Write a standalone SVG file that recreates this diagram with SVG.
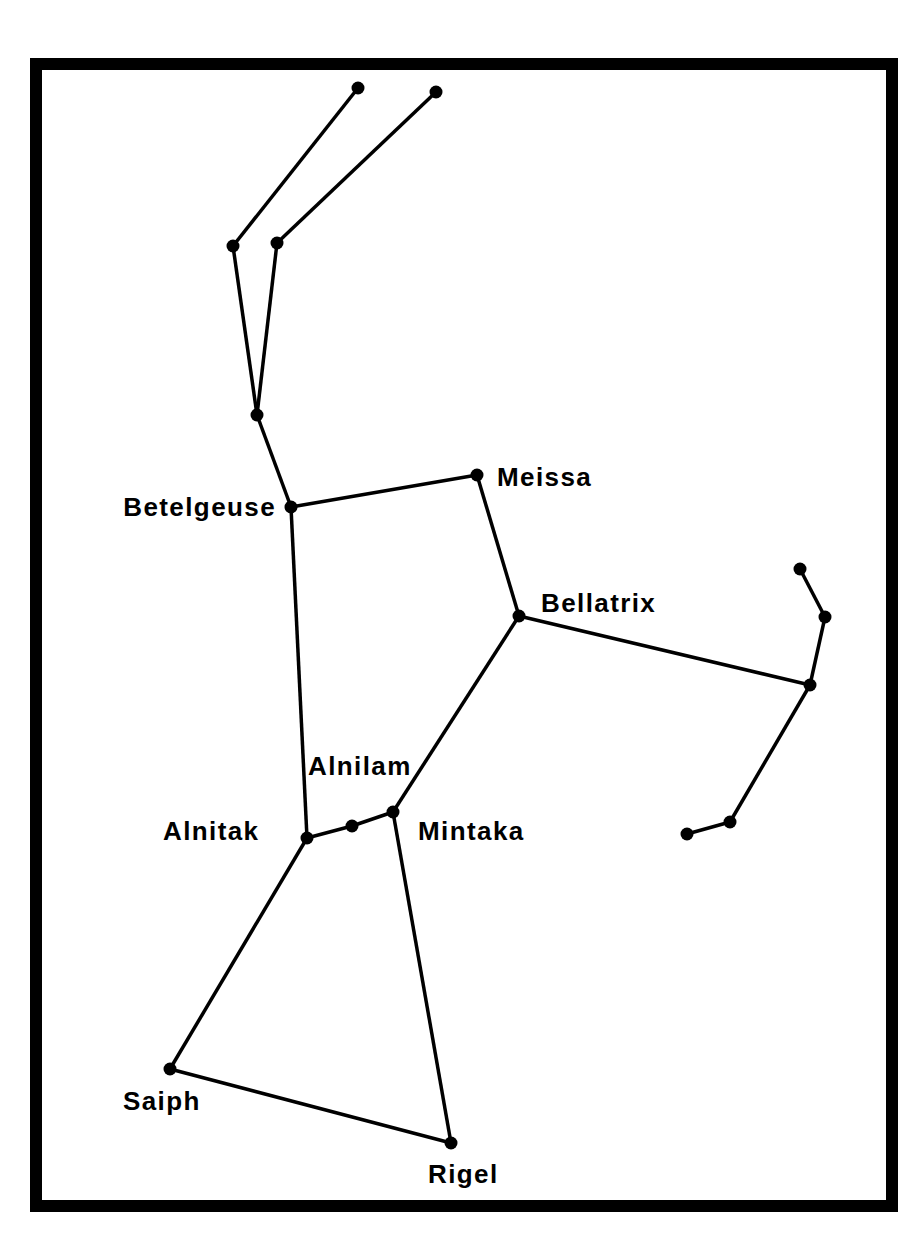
<svg xmlns="http://www.w3.org/2000/svg" width="916" height="1260" viewBox="0 0 916 1260">
<style>
.e line{stroke:#000;stroke-width:3.5}
.s circle{fill:#000}
text{font-family:"Liberation Sans",Arial,sans-serif;font-weight:bold;font-size:26px;letter-spacing:1.4px;fill:#000}
</style>
<rect width="916" height="1260" fill="#fff"/>
<rect x="36" y="64" width="856" height="1142" fill="none" stroke="#000" stroke-width="12"/>
<g id="connectors" class="e">
<line x1="358" y1="88" x2="233" y2="246"/>
<line x1="436" y1="92" x2="277" y2="243"/>
<line x1="233" y1="246" x2="257" y2="415"/>
<line x1="277" y1="243" x2="257" y2="415"/>
<line x1="257" y1="415" x2="291" y2="507"/>
<line x1="291" y1="507" x2="477" y2="475"/>
<line x1="477" y1="475" x2="519" y2="616"/>
<line x1="291" y1="507" x2="307" y2="838"/>
<line x1="519" y1="616" x2="393" y2="812"/>
<line x1="519" y1="616" x2="810" y2="685"/>
<line x1="800" y1="569" x2="825" y2="617"/>
<line x1="825" y1="617" x2="810" y2="685"/>
<line x1="810" y1="685" x2="730" y2="822"/>
<line x1="730" y1="822" x2="687" y2="834"/>
<line x1="307" y1="838" x2="352" y2="826"/>
<line x1="352" y1="826" x2="393" y2="812"/>
<line x1="307" y1="838" x2="170" y2="1069"/>
<line x1="393" y1="812" x2="451" y2="1143"/>
<line x1="170" y1="1069" x2="451" y2="1143"/>
</g>
<g class="s">
<g id="s1"><circle cx="358" cy="88" r="6.5"/></g>
<g id="s2"><circle cx="436" cy="92" r="6.5"/></g>
<g id="s3"><circle cx="233" cy="246" r="6.5"/></g>
<g id="s4"><circle cx="277" cy="243" r="6.5"/></g>
<g id="s5"><circle cx="257" cy="415" r="6.5"/></g>
<g id="betelgeuse"><circle cx="291" cy="507" r="6.5"/><text x="276" y="516" text-anchor="end">Betelgeuse</text></g>
<g id="meissa"><circle cx="477" cy="475" r="6.5"/><text x="497" y="486">Meissa</text></g>
<g id="bellatrix"><circle cx="519" cy="616" r="6.5"/><text x="541" y="612">Bellatrix</text></g>
<g id="s6"><circle cx="800" cy="569" r="6.5"/></g>
<g id="s7"><circle cx="825" cy="617" r="6.5"/></g>
<g id="s8"><circle cx="810" cy="685" r="6.5"/></g>
<g id="s9"><circle cx="730" cy="822" r="6.5"/></g>
<g id="s10"><circle cx="687" cy="834" r="6.5"/></g>
<g id="alnitak"><circle cx="307" cy="838" r="6.5"/><text x="163" y="840">Alnitak</text></g>
<g id="alnilam"><circle cx="352" cy="826" r="6.5"/><text x="308" y="775">Alnilam</text></g>
<g id="mintaka"><circle cx="393" cy="812" r="6.5"/><text x="418" y="840">Mintaka</text></g>
<g id="saiph"><circle cx="170" cy="1069" r="6.5"/><text x="123" y="1110">Saiph</text></g>
<g id="rigel"><circle cx="451" cy="1143" r="6.5"/><text x="428" y="1183">Rigel</text></g>
</g>
</svg>
